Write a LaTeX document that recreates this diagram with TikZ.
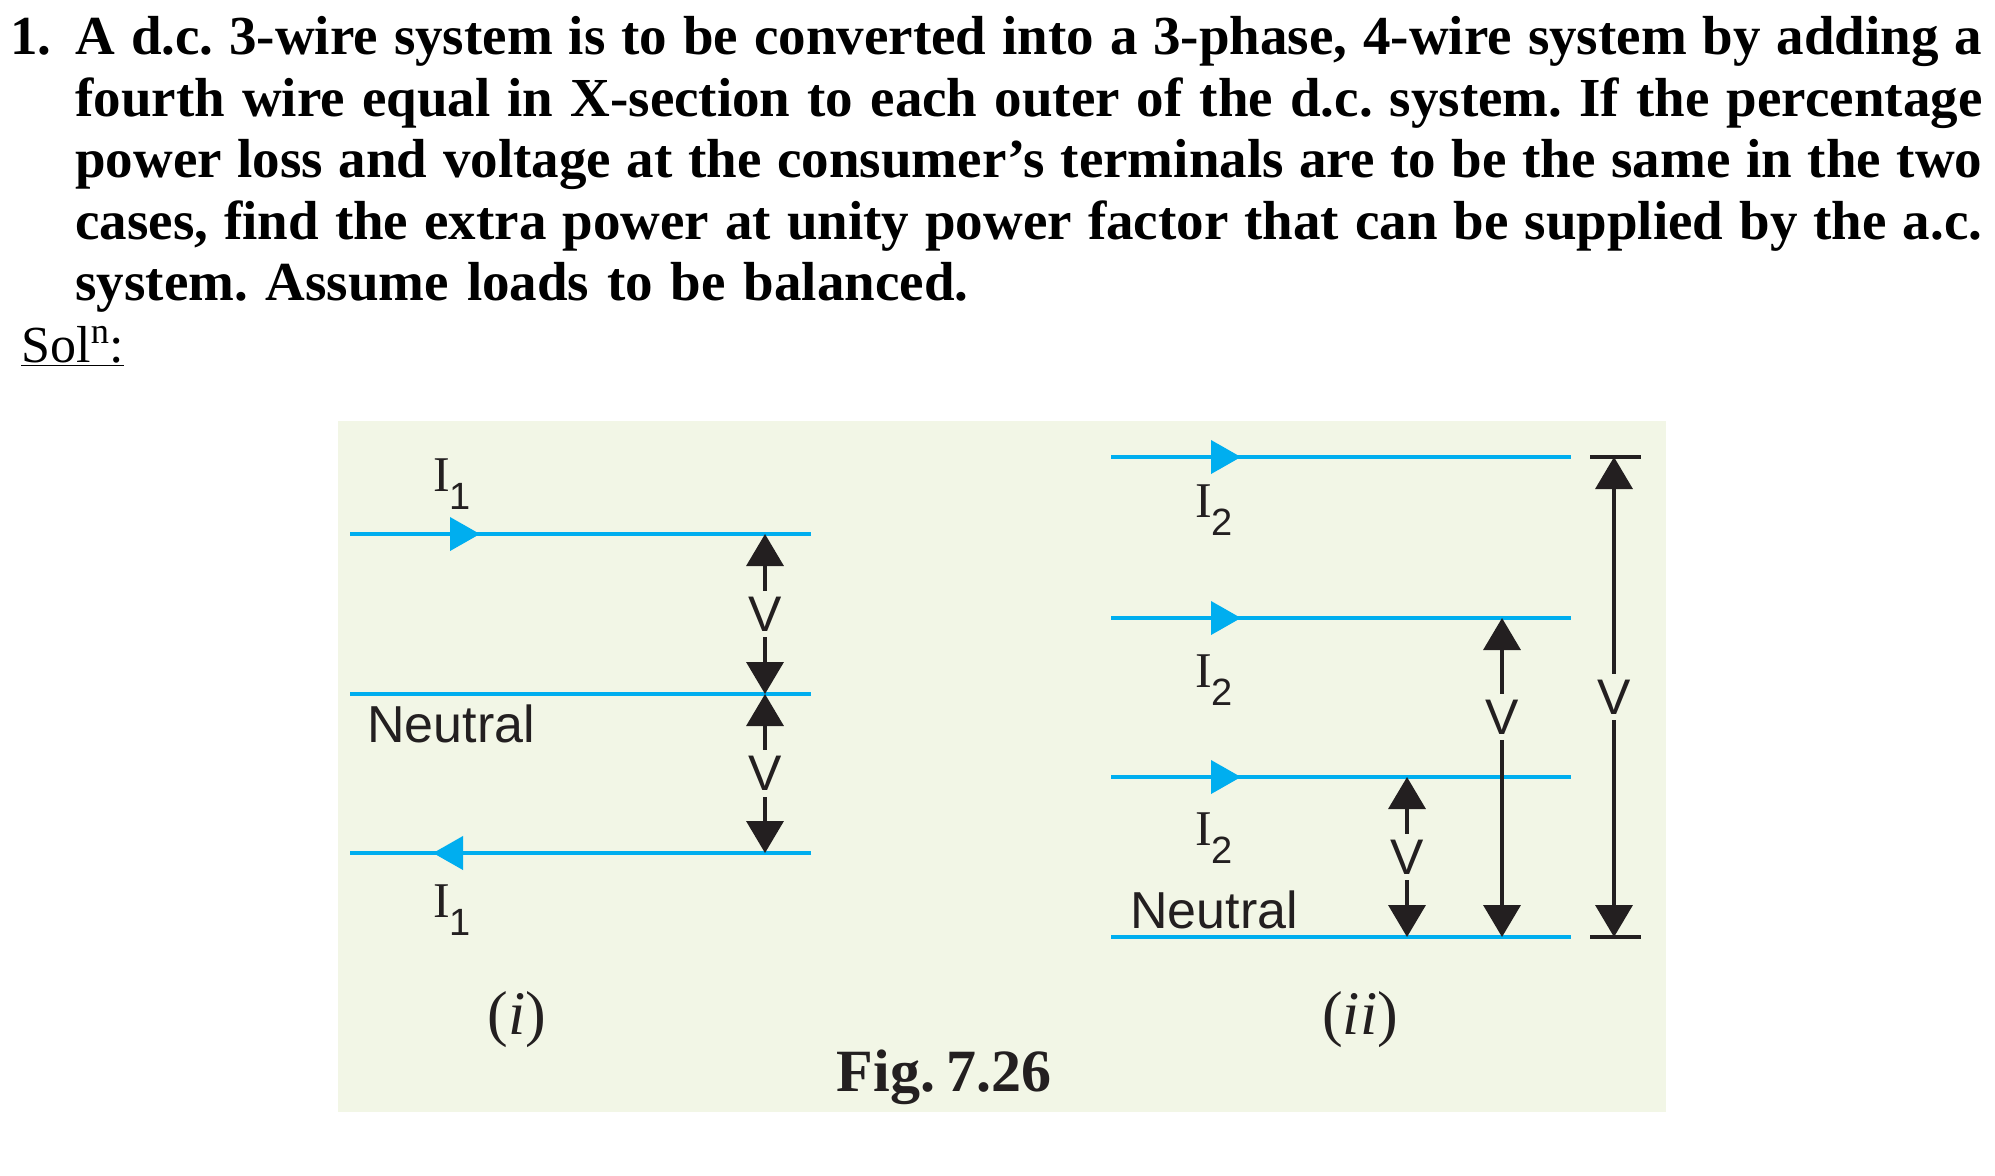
\documentclass[tikz,border=0pt]{standalone}
\usepackage{fontspec}
\setmainfont{Liberation Serif}[WordSpace = .72]
\setsansfont{Liberation Sans}
\usetikzlibrary{arrows.meta, calc}
\definecolor{panelColor}{RGB}{242,246,230}
\definecolor{wireColor}{RGB}{0,174,239}
\definecolor{inkColor}{RGB}{35,31,32}
\tikzstyle{sheet} = [x = .5pt, y = -.5pt]
\tikzstyle{questionText} = [anchor = base west, inner sep = 0, font = \fontsize{27.5}{30}\selectfont\bfseries]
\tikzstyle{solutionText} = [anchor = base west, inner sep = 0, font = \fontsize{26}{30}\selectfont]
\tikzstyle{wireLine} = [color = wireColor, line width = 2pt]
\tikzstyle{wireHead} = [color = wireColor, line width = 2pt, -{Triangle[length = 15pt, width = 16.5pt]}]
\tikzstyle{voltLine} = [color = inkColor, line width = 1.8pt, {Triangle[length = 16pt, width = 18.5pt]}-{Triangle[length = 16pt, width = 18.5pt]}]
\tikzstyle{voltBar} = [color = inkColor, line width = 1.8pt]
\tikzstyle{voltText} = [fill = panelColor, inner xsep = 0, inner ysep = 3pt, text = inkColor, font = \fontsize{25}{25}\sffamily\selectfont]
\tikzstyle{wireText} = [text = inkColor, inner sep = 0, font = \fontsize{26}{26}\sffamily\selectfont]
\tikzstyle{currentText} = [text = inkColor, inner sep = 0, font = \fontsize{25}{26}\selectfont]
\tikzstyle{caseText} = [text = inkColor, inner sep = 0, font = \fontsize{31}{32}\selectfont]
\tikzstyle{figureText} = [text = inkColor, inner sep = 0, font = \fontsize{30}{32}\selectfont\bfseries]
\newcommand{\questionLine}[4]{\node [questionText] (#1) at (75, #2) {\makebox[#3][s]{#4}};}
\newcommand{\currentName}[1]{I\raisebox{-.35em}{\fontsize{19}{19}\sffamily\selectfont #1}}
\newcommand{\wireRight}[4]{
  \coordinate (#1West) at (#2, #4);
  \coordinate (#1East) at (#3, #4);
  \coordinate (#1Tip) at ($(#2, #4) + (130, 0)$);
  \draw [wireLine] (#1West) -- (#1East);
  \draw [wireHead] (#1West) -- (#1Tip);
}
\begin{document}
\frenchspacing
\begin{tikzpicture}[sheet]
  \useasboundingbox (0, 0) rectangle (1995, 1175);
  \node [questionText] (numberOne) at (10, 54) {1.};
  \questionLine{lineOne}{54}{953.5pt}{A d.c. 3-wire system is to be converted into a 3-phase, 4-wire system by adding a}
  \questionLine{lineTwo}{116}{953.5pt}{fourth wire equal in X-section to each outer of the d.c. system. If the percentage}
  \questionLine{lineThree}{177}{953.5pt}{power loss and voltage at the consumer’s terminals are to be the same in the two}
  \questionLine{lineFour}{239}{953.5pt}{cases, find the extra power at unity power factor that can be supplied by the a.c.}
  \questionLine{lineFive}{300}{446.5pt}{system. Assume loads to be balanced.}
  \node [solutionText] (solution) at (21, 362) {\underline{Sol\textsuperscript{n}:}};

  \fill [panelColor] (338, 421) rectangle (1666, 1112);

  % case (i)
  \wireRight{wireAOne}{350}{811}{534}
  \coordinate (wireATwoWest) at (350, 694);
  \coordinate (wireATwoEast) at (811, 694);
  \draw [wireLine] (wireATwoWest) -- (wireATwoEast);
  \coordinate (wireAThreeWest) at (350, 853);
  \coordinate (wireAThreeEast) at (811, 853);
  \coordinate (wireAThreeTip) at (433, 853);
  \draw [wireLine] (wireAThreeWest) -- (wireAThreeEast);
  \draw [wireHead] (wireAThreeEast) -- (wireAThreeTip);
  \coordinate (voltATop) at (765, 534);
  \coordinate (voltAMid) at (765, 694);
  \coordinate (voltABottom) at (765, 853);
  \draw [voltLine] (voltATop) -- node [voltText] (voltAUpper) {V} (voltAMid);
  \draw [voltLine] (voltAMid) -- node [voltText] (voltALower) {V} (voltABottom);
  \node [currentText] (currentAOne) at (452, 484) {\currentName{1}};
  \node [currentText] (currentATwo) at (452, 910) {\currentName{1}};
  \node [wireText] (neutralA) at (451, 724) {Neutral};
  \node [caseText] (caseA) at (517, 1020) {(\textit{i})};

  % case (ii)
  \wireRight{wireBOne}{1111}{1571}{457}
  \wireRight{wireBTwo}{1111}{1571}{618}
  \wireRight{wireBThree}{1111}{1571}{777}
  \coordinate (wireBFourWest) at (1111, 937);
  \coordinate (wireBFourEast) at (1571, 937);
  \draw [wireLine] (wireBFourWest) -- (wireBFourEast);
  \coordinate (voltBNearTop) at (1407, 777);
  \coordinate (voltBNearBottom) at (1407, 937);
  \coordinate (voltBMidTop) at (1502, 618);
  \coordinate (voltBMidBottom) at (1502, 937);
  \coordinate (voltBFarTop) at (1614, 457);
  \coordinate (voltBFarBottom) at (1614, 937);
  \draw [voltLine] (voltBNearTop) -- node [voltText] (voltBNear) {V} (voltBNearBottom);
  \draw [voltLine] (voltBMidTop) -- node [voltText, pos = .31] (voltBMid) {V} (voltBMidBottom);
  \draw [voltLine] (voltBFarTop) -- node [voltText] (voltBFar) {V} (voltBFarBottom);
  \coordinate (barTopWest) at (1590, 457);
  \coordinate (barTopEast) at (1641, 457);
  \coordinate (barBottomWest) at (1590, 937);
  \coordinate (barBottomEast) at (1641, 937);
  \draw [voltBar] (barTopWest) -- (barTopEast);
  \draw [voltBar] (barBottomWest) -- (barBottomEast);
  \node [currentText] (currentBOne) at (1214, 510) {\currentName{2}};
  \node [currentText] (currentBTwo) at (1214, 680) {\currentName{2}};
  \node [currentText] (currentBThree) at (1214, 838) {\currentName{2}};
  \node [wireText] (neutralB) at (1214, 910) {Neutral};
  \node [caseText] (caseB) at (1360, 1020) {(\textit{ii})};

  \node [figureText] (figureName) at (944, 1077) {Fig. 7.26};
\end{tikzpicture}
\end{document}
